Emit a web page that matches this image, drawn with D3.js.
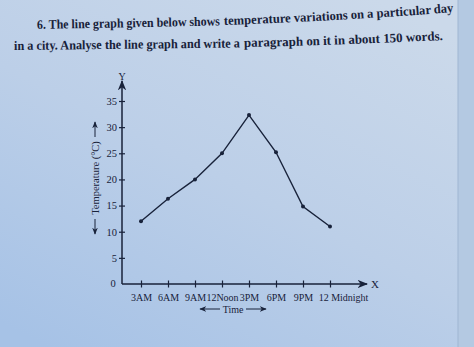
<!DOCTYPE html>
<html><head><meta charset="utf-8">
<script src="https://cdn.jsdelivr.net/npm/d3@7"></script>
<style>html,body{margin:0;padding:0;overflow:hidden;background:#bcd0e8}</style>
</head><body>
<script>
const categories = ["3AM","6AM","9AM","12Noon","3PM","6PM","9PM","12 Midnight"];
const temperatures = [12, 16.3, 20, 25, 32.3, 25.2, 14.8, 11];
const yTicks = [0,5,10,15,20,25,30,35];
const titleParts = [
  "6. The line graph given below shows",
  "temperature variations on a particular day",
  "in a city. Analyse the line graph and write a",
  "paragraph on it in about 150 words."
];
const yLabel = "Temperature (°C)";
const xLabel = "Time";

const W = 474, H = 347;
const ink = "#18223a";
const svg = d3.select("body").append("svg").attr("width", W).attr("height", H);
const defs = svg.append("defs");
const g1 = defs.append("linearGradient").attr("id","bg").attr("x1","0.8").attr("y1","0").attr("x2","0.1").attr("y2","1");
g1.append("stop").attr("offset","0").attr("stop-color","#cbd9ea");
g1.append("stop").attr("offset","0.5").attr("stop-color","#bccfe8");
g1.append("stop").attr("offset","1").attr("stop-color","#a6c2e6");
svg.append("rect").attr("width",W).attr("height",H).attr("fill","url(#bg)");
svg.append("rect").attr("x",458).attr("width",W-458).attr("height",H).attr("fill","#b4c9e2");
svg.append("line").attr("x1",458).attr("x2",458).attr("y1",0).attr("y2",H).attr("stroke","#9fb6d2").attr("stroke-width",1);

// title pieces on slightly curved baselines (photographed page curvature)
const paths = ["M37,29 L220,25.5", "M224,25 Q340,21 455,12", "M14,50 L240,47.5", "M244,47 Q345,45 443,40"];
const lens = [183, 230, 226, 199];
titleParts.forEach((t,i)=>{
  defs.append("path").attr("id","tp"+i).attr("d",paths[i]);
  svg.append("text").attr("font-family","'Liberation Serif', serif").attr("font-weight","bold")
    .attr("font-size",13).attr("fill",ink)
    .append("textPath").attr("href","#tp"+i).attr("textLength",lens[i]).attr("lengthAdjust","spacingAndGlyphs").text(t);
});

const x = d3.scalePoint().domain(categories).range([141, 330]);
const y = d3.scaleLinear().domain([0,35]).range([284, 101]);
const x0 = 122;

const font = "'Liberation Serif', serif";
const chart = svg.append("g").attr("fill", ink);

defs.append("marker").attr("id","ah").attr("viewBox","0 0 10 10").attr("refX",9).attr("refY",5)
  .attr("markerWidth",7).attr("markerHeight",7).attr("orient","auto")
  .append("path").attr("d","M0,1 L10,5 L0,9 L3,5 Z").attr("fill",ink);

const yAxis = d3.axisLeft(y).tickValues(yTicks.filter(d=>d>0)).tickSize(0).tickPadding(5);
const ya = chart.append("g").attr("transform",`translate(${x0},0)`).call(yAxis);
ya.select(".domain").remove();
ya.selectAll("text").attr("font-family",font).attr("font-size",10.5).attr("fill",ink);
ya.selectAll(".tick").append("line").attr("x1",-3).attr("x2",3).attr("stroke",ink).attr("stroke-width",1.2);

const xAxis = d3.axisBottom(x).tickSize(0).tickPadding(10);
const xa = chart.append("g").attr("transform",`translate(0,${y(0)})`).call(xAxis);
xa.select(".domain").remove();
xa.selectAll("text").attr("font-family",font).attr("font-size",10).attr("fill",ink)
  .attr("dx", d => d === "12 Midnight" ? 13 : 0);
xa.selectAll(".tick").append("line").attr("y1",-3.5).attr("y2",3.5).attr("stroke",ink).attr("stroke-width",1.2);

chart.append("line").attr("x1",x0).attr("x2",x0).attr("y1",y(0)).attr("y2",81)
  .attr("stroke",ink).attr("stroke-width",1.5).attr("marker-end","url(#ah)");
chart.append("line").attr("x1",x0).attr("x2",367).attr("y1",y(0)).attr("y2",y(0))
  .attr("stroke",ink).attr("stroke-width",1.5).attr("marker-end","url(#ah)");
chart.append("text").attr("x",x0-9).attr("y",y(0)+3).attr("text-anchor","middle")
  .attr("font-family",font).attr("font-size",10.5).text("0");
chart.append("text").attr("x",x0).attr("y",80).attr("text-anchor","middle")
  .attr("font-family",font).attr("font-size",10).text("Y");
chart.append("text").attr("x",375).attr("y",y(0)+4).attr("text-anchor","middle")
  .attr("font-family",font).attr("font-size",11).text("X");

const yl = chart.append("g").attr("transform","translate(95,178) rotate(-90)");
yl.append("text").attr("text-anchor","middle").attr("y",4).attr("font-family",font).attr("font-size",10.5).text(yLabel);
yl.append("line").attr("x1",-41).attr("x2",-56).attr("stroke",ink).attr("stroke-width",1).attr("marker-end","url(#ah)");
yl.append("line").attr("x1",41).attr("x2",56).attr("stroke",ink).attr("stroke-width",1).attr("marker-end","url(#ah)");

const xl = chart.append("g").attr("transform","translate(233,309)");
xl.append("text").attr("text-anchor","middle").attr("y",3.5).attr("font-family",font).attr("font-size",10).text(xLabel);
xl.append("line").attr("x1",-13).attr("x2",-33).attr("stroke",ink).attr("stroke-width",1).attr("marker-end","url(#ah)");
xl.append("line").attr("x1",13).attr("x2",33).attr("stroke",ink).attr("stroke-width",1).attr("marker-end","url(#ah)");

const data = categories.map((c,i)=>({c, v: temperatures[i]}));
chart.append("path").datum(data)
  .attr("d", d3.line().x(d=>x(d.c)).y(d=>y(d.v)))
  .attr("fill","none").attr("stroke",ink).attr("stroke-width",1.4);
chart.selectAll("circle.pt").data(data).join("circle").attr("class","pt")
  .attr("cx",d=>x(d.c)).attr("cy",d=>y(d.v)).attr("r",2).attr("fill",ink);
</script>
</body></html>
